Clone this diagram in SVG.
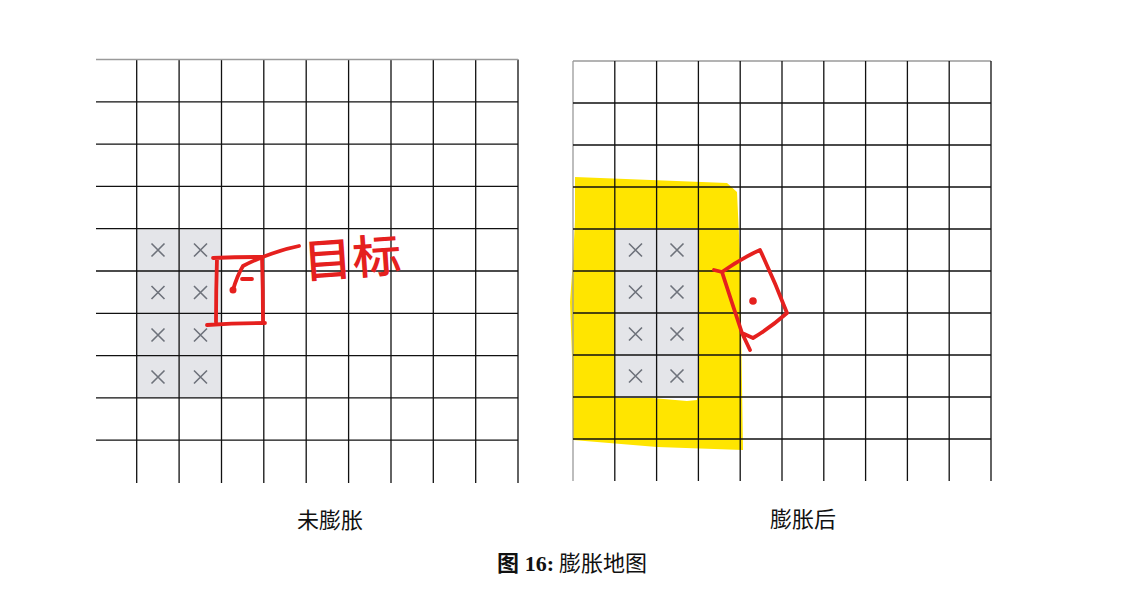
<svg xmlns="http://www.w3.org/2000/svg" width="1126" height="589" viewBox="0 0 1126 589">
<style>
.g{stroke:#111;stroke-width:1.3;fill:none}
.gt{stroke:#9a9a9a;stroke-width:1.3;fill:none}
.cell{fill:#e4e5e9}
.x{stroke:#6e727b;stroke-width:1.6;fill:none}
.red{stroke:#e5201e;stroke-width:3.8;fill:none;stroke-linecap:round;stroke-linejoin:round}
.lbl{font-family:"Noto Sans CJK SC","Liberation Serif",serif;font-size:22px;fill:#111;text-anchor:middle}
</style>
<defs>
<g id="xm"><path class="x" d="M-6.5,-6.5 L6.5,6.5 M6.5,-6.5 L-6.5,6.5"/></g>
</defs>
<rect width="1126" height="589" fill="#fff"/>

<g id="left-grid">
<rect class="cell" x="136.7" y="229.3" width="85" height="169"/>
<path class="g" d="M136.7,59.5V483M179.1,59.5V483M221.5,59.5V483M263.8,59.5V483M306.2,59.5V483M348.6,59.5V483M391,59.5V483M433.3,59.5V483M475.7,59.5V483M518,59.5V483"/>
<path class="gt" d="M96,59.5H518"/>
<path class="g" d="M96,101.8H518M96,144.1H518M96,186.4H518M96,228.7H518M96,271H518M96,313.3H518M96,355.6H518M96,397.9H518M96,440.2H518"/>
<use href="#xm" x="158" y="250"/><use href="#xm" x="200.5" y="250"/>
<use href="#xm" x="158" y="292.5"/><use href="#xm" x="200.5" y="292.5"/>
<use href="#xm" x="158" y="335"/><use href="#xm" x="200.5" y="335"/>
<use href="#xm" x="158" y="377"/><use href="#xm" x="200.5" y="377"/>
</g>

<g id="right-grid">
<path fill="#ffe500" fill-rule="evenodd" d="M575,177 L727,183 L737,192 L740,257 L743,450 L657,447 L573,440 L572,357 L570,302 L573,260 L575,220 Z M616,228 L696,228 L697,400 L687,401 L617,395 Z"/>
<rect class="cell" x="615" y="228" width="83" height="170"/>
<path class="gt" d="M573,61V481M573,61H991"/>
<path class="g" d="M614.8,61V481M656.6,61V481M698.4,61V481M740.2,61V481M782,61V481M823.8,61V481M865.6,61V481M907.4,61V481M949.2,61V481M991,61V481"/>
<path class="g" d="M573,103H991M573,145H991M573,187H991M573,229H991M573,271H991M573,313H991M573,355H991M573,397H991M573,439H991"/>
<use href="#xm" x="635.5" y="250"/><use href="#xm" x="677" y="250"/>
<use href="#xm" x="635.5" y="292"/><use href="#xm" x="677" y="292"/>
<use href="#xm" x="635.5" y="334"/><use href="#xm" x="677" y="334"/>
<use href="#xm" x="635.5" y="376"/><use href="#xm" x="677" y="376"/>
</g>

<g id="left-annotation">
<path class="red" d="M213,258 Q237,257 261,257 M217,258 Q216,290 216,322 M262,257 Q263,290 263,322 M207,325 Q236,323 265,323"/>
<path class="red" d="M299,246 Q270,252 243,266 Q237,276 233,290 M242,279 L252,279"/>
<circle cx="233" cy="290" r="3.5" fill="#e5201e"/>
<text x="303" y="275" font-family="'Noto Sans CJK SC',sans-serif" font-weight="500" font-size="46" fill="#e5201e" transform="rotate(-4 350 255)" textLength="98" lengthAdjust="spacingAndGlyphs">目标</text>
</g>

<g id="right-annotation">
<path class="red" d="M714,270 L722,272 Q742,258 760,250 Q775,282 787,313 Q770,328 753,338 L742,333 M722,272 Q732,303 742,333 L750,350"/>
<circle cx="753" cy="301" r="3.8" fill="#e5201e"/>
</g>

<g id="labels">
<text class="lbl" x="330" y="528">未膨胀</text>
<text class="lbl" x="803" y="527">膨胀后</text>
<text x="572" y="571" font-size="22" fill="#111" text-anchor="middle" font-family="'Liberation Serif','Noto Sans CJK SC',serif"><tspan font-weight="bold" font-family="'Noto Sans CJK SC',sans-serif">图</tspan><tspan font-weight="bold"> 16:</tspan><tspan font-family="'Noto Sans CJK SC',sans-serif"> 膨胀地图</tspan></text>
</g>
</svg>
